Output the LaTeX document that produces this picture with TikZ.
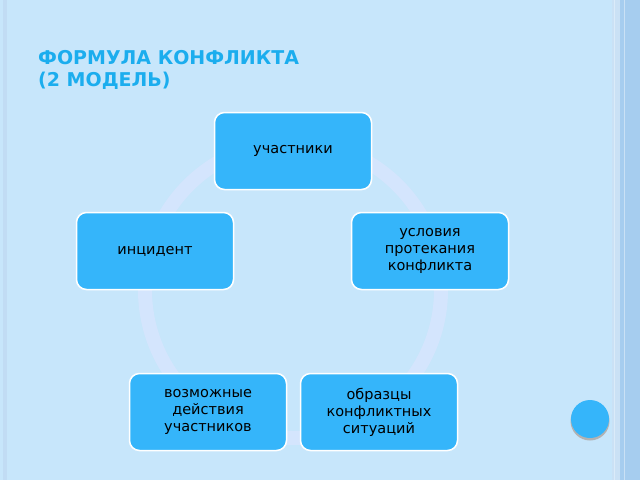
\documentclass[tikz,border=0pt]{standalone}
\usepackage{fontspec}
\setmainfont{DejaVu Sans}
\begin{document}
\begin{tikzpicture}[x=1pt,y=-1pt,
  box/.style={draw=white,line width=1.5pt,fill=boxblue,rounded corners=10pt,minimum width=157pt,minimum height=77pt,align=center,font=\fontsize{14.5}{17}\selectfont,text=black}]
\definecolor{bg}{HTML}{C7E6FB}
\definecolor{boxblue}{HTML}{35B5FA}
\definecolor{titleblue}{HTML}{1BADEE}
\definecolor{stripe}{HTML}{A6CDEF}
\fill[bg] (0,0) rectangle (640,480);
\useasboundingbox (0,0) rectangle (640,480);
\fill[stripe!70] (3,0) rectangle (7,480);
\fill[stripe!60] (612,0) rectangle (640,480);
\fill[stripe] (620,0) rectangle (640,480);
\draw[white!60!stripe,line width=1pt] (614,0) -- (614,480);
\draw[white!40!stripe,line width=1pt] (624,0) -- (624,480);
\draw[line width=14pt,color=bg!92!blue!60!white] (293,290) circle (148);
\node[anchor=north west,font=\bfseries\fontsize{19}{22}\selectfont,text=titleblue,align=left,inner sep=0pt] (title) at (38,50) {ФОРМУЛА КОНФЛИКТА\\(2 МОДЕЛЬ)};
\node[box] (a) at (293,151) {участники};
\node[box] (b) at (430,251) {условия\\протекания\\конфликта};
\node[box] (c) at (379,412) {образцы\\конфликтных\\ситуаций};
\node[box] (d) at (208,412) {возможные\\действия\\участников};
\node[box] (e) at (155,251) {инцидент};
\fill[black!30] (590,421) circle (19.5);
\node[circle,fill=boxblue,minimum size=38pt,inner sep=0pt] (btn) at (590,419) {};
\end{tikzpicture}
\end{document}
